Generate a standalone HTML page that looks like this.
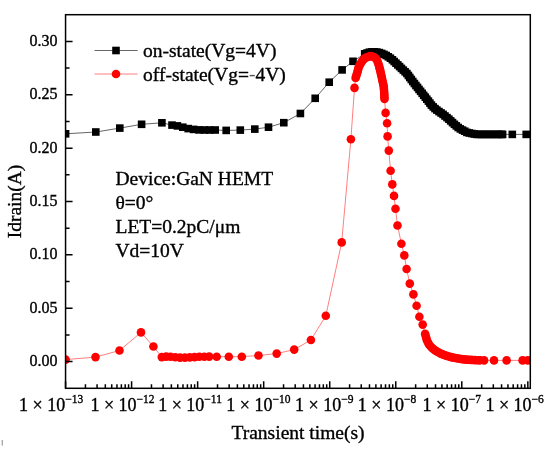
<!DOCTYPE html><html><head><meta charset="utf-8"><style>html,body{margin:0;padding:0;background:#fff;width:550px;height:449px;overflow:hidden}svg{display:block}</style></head><body>
<svg width="550" height="449" viewBox="0 0 550 449">
<rect width="550" height="449" fill="#fff"/>
<defs><clipPath id="c"><rect x="65.56" y="14.7" width="464.73999999999995" height="373.6"/></clipPath></defs>
<g clip-path="url(#c)">
<polyline fill="none" stroke="#555" stroke-width="0.9" points="65.6,133.8 95.8,132.0 119.8,128.1 141.6,124.3 161.9,122.8 172.0,125.1 177.4,125.9 182.8,127.2 188.2,128.6 193.6,129.4 199.0,129.9 204.4,130.0 209.8,130.0 215.2,130.0 226.2,130.4 240.3,130.1 254.8,129.1 268.5,127.2 283.8,122.7 300.4,113.5 315.2,98.3 329.2,82.2 342.1,69.9 353.0,61.3 364.7,53.8 367.1,53.0 369.4,52.2 371.9,51.9 374.4,51.8 376.9,52.1 379.3,52.6 381.7,53.4 384.0,54.4 386.2,55.5 388.3,56.8 390.4,58.2 392.4,59.8 394.2,61.5 396.0,63.2 397.8,64.9 399.6,66.6 401.4,68.4 403.3,70.1 405.1,71.8 406.9,73.5 408.4,75.5 409.8,77.5 411.3,79.5 412.8,81.5 414.4,83.5 415.9,85.5 417.5,87.4 419.0,89.4 420.6,91.3 422.2,93.3 423.7,95.3 425.3,97.2 426.8,99.2 428.4,101.1 429.9,103.1 431.4,105.1 433.2,106.9 435.0,108.6 436.9,110.1 439.0,111.6 441.1,113.0 443.1,114.4 445.0,116.0 447.0,117.6 448.9,119.2 450.7,120.9 452.5,122.6 454.4,124.3 456.3,125.9 458.2,127.5 460.3,128.9 462.5,130.1 464.7,131.2 466.9,132.4 469.3,133.0 471.8,133.5 474.2,134.0 476.7,134.4 479.2,134.4 481.7,134.4 484.2,134.4 486.7,134.4 489.2,134.4 491.7,134.4 494.2,134.4 496.7,134.4 499.2,134.4 501.7,134.4 502.6,134.4 512.3,134.4 526.2,134.4"/>
<polyline fill="none" stroke="#ff7070" stroke-width="0.9" points="65.6,359.6 95.5,357.1 119.5,350.5 141.0,332.4 153.4,346.5 161.8,357.1 166.2,356.6 170.5,356.8 175.3,357.3 180.1,357.6 184.9,357.6 189.7,357.4 194.5,357.1 199.3,356.8 204.3,356.7 209.2,356.6 216.7,356.7 228.8,356.7 241.8,356.7 258.5,355.5 276.7,353.6 294.2,349.6 310.9,340.0 325.8,315.8 341.7,242.4 350.9,139.2 354.5,87.9 355.6,77.9 356.2,76.0 356.8,74.1 357.4,72.2 357.9,70.2 358.4,68.3 359.0,66.4 360.0,64.7 361.0,62.9 362.1,61.3 363.4,59.8 364.7,58.3 366.5,57.4 368.4,56.7 370.2,56.1 372.2,56.5 374.1,57.0 375.5,58.3 376.9,59.8 377.6,61.7 378.3,63.6 378.9,65.5 379.4,67.4 379.9,69.3 380.4,71.3 380.8,73.2 381.3,75.2 381.7,77.1 382.1,79.1 382.5,81.0 383.0,83.0 383.4,84.9 383.8,86.9 383.9,88.9 384.1,90.9 384.2,92.9 384.3,94.9 384.4,96.9 384.5,98.9 385.6,112.9 387.1,123.2 387.6,136.4 388.8,150.6 390.6,170.7 392.3,184.4 394.0,195.9 395.5,208.8 397.5,225.5 401.4,243.7 404.3,255.4 406.6,269.0 409.8,283.6 413.4,294.4 416.6,305.7 419.4,316.7 422.7,324.6 425.1,333.8 425.7,335.9 426.3,338.0 426.9,340.2 427.8,342.1 428.8,344.1 430.1,345.8 431.6,347.5 433.2,348.9 435.0,350.3 436.8,351.5 438.8,352.5 440.7,353.6 442.7,354.4 444.8,355.2 446.8,355.9 449.0,356.5 451.1,357.1 453.2,357.6 455.4,358.0 457.5,358.4 459.7,358.8 461.9,359.1 464.1,359.4 466.3,359.6 468.5,359.7 470.7,359.9 472.8,360.0 475.0,360.1 477.2,360.2 479.4,360.3 480.0,360.3 484.1,360.4 494.0,360.4 506.6,360.4 522.6,360.4 527.7,360.4"/>
<g fill="#000"><rect x="61.8" y="130.0" width="7.6" height="7.6"/><rect x="92.0" y="128.2" width="7.6" height="7.6"/><rect x="116.0" y="124.3" width="7.6" height="7.6"/><rect x="137.8" y="120.5" width="7.6" height="7.6"/><rect x="158.1" y="119.0" width="7.6" height="7.6"/><rect x="168.2" y="121.3" width="7.6" height="7.6"/><rect x="173.6" y="122.1" width="7.6" height="7.6"/><rect x="179.0" y="123.4" width="7.6" height="7.6"/><rect x="184.4" y="124.8" width="7.6" height="7.6"/><rect x="189.8" y="125.6" width="7.6" height="7.6"/><rect x="195.2" y="126.1" width="7.6" height="7.6"/><rect x="200.6" y="126.2" width="7.6" height="7.6"/><rect x="206.0" y="126.2" width="7.6" height="7.6"/><rect x="211.4" y="126.2" width="7.6" height="7.6"/><rect x="222.4" y="126.6" width="7.6" height="7.6"/><rect x="236.5" y="126.3" width="7.6" height="7.6"/><rect x="251.0" y="125.3" width="7.6" height="7.6"/><rect x="264.7" y="123.4" width="7.6" height="7.6"/><rect x="280.0" y="118.9" width="7.6" height="7.6"/><rect x="296.6" y="109.7" width="7.6" height="7.6"/><rect x="311.4" y="94.5" width="7.6" height="7.6"/><rect x="325.4" y="78.4" width="7.6" height="7.6"/><rect x="338.3" y="66.1" width="7.6" height="7.6"/><rect x="349.2" y="57.5" width="7.6" height="7.6"/><rect x="360.9" y="50.0" width="7.6" height="7.6"/><rect x="363.3" y="49.2" width="7.6" height="7.6"/><rect x="365.6" y="48.4" width="7.6" height="7.6"/><rect x="368.1" y="48.1" width="7.6" height="7.6"/><rect x="370.6" y="48.0" width="7.6" height="7.6"/><rect x="373.1" y="48.3" width="7.6" height="7.6"/><rect x="375.5" y="48.8" width="7.6" height="7.6"/><rect x="377.9" y="49.6" width="7.6" height="7.6"/><rect x="380.2" y="50.6" width="7.6" height="7.6"/><rect x="382.4" y="51.7" width="7.6" height="7.6"/><rect x="384.5" y="53.0" width="7.6" height="7.6"/><rect x="386.6" y="54.4" width="7.6" height="7.6"/><rect x="388.6" y="56.0" width="7.6" height="7.6"/><rect x="390.4" y="57.7" width="7.6" height="7.6"/><rect x="392.2" y="59.4" width="7.6" height="7.6"/><rect x="394.0" y="61.1" width="7.6" height="7.6"/><rect x="395.8" y="62.8" width="7.6" height="7.6"/><rect x="397.6" y="64.6" width="7.6" height="7.6"/><rect x="399.5" y="66.3" width="7.6" height="7.6"/><rect x="401.3" y="68.0" width="7.6" height="7.6"/><rect x="403.1" y="69.7" width="7.6" height="7.6"/><rect x="404.6" y="71.7" width="7.6" height="7.6"/><rect x="406.0" y="73.7" width="7.6" height="7.6"/><rect x="407.5" y="75.7" width="7.6" height="7.6"/><rect x="409.0" y="77.7" width="7.6" height="7.6"/><rect x="410.6" y="79.7" width="7.6" height="7.6"/><rect x="412.1" y="81.7" width="7.6" height="7.6"/><rect x="413.7" y="83.6" width="7.6" height="7.6"/><rect x="415.2" y="85.6" width="7.6" height="7.6"/><rect x="416.8" y="87.5" width="7.6" height="7.6"/><rect x="418.4" y="89.5" width="7.6" height="7.6"/><rect x="419.9" y="91.5" width="7.6" height="7.6"/><rect x="421.5" y="93.4" width="7.6" height="7.6"/><rect x="423.0" y="95.4" width="7.6" height="7.6"/><rect x="424.6" y="97.3" width="7.6" height="7.6"/><rect x="426.1" y="99.3" width="7.6" height="7.6"/><rect x="427.6" y="101.3" width="7.6" height="7.6"/><rect x="429.4" y="103.1" width="7.6" height="7.6"/><rect x="431.2" y="104.8" width="7.6" height="7.6"/><rect x="433.1" y="106.3" width="7.6" height="7.6"/><rect x="435.2" y="107.8" width="7.6" height="7.6"/><rect x="437.3" y="109.2" width="7.6" height="7.6"/><rect x="439.3" y="110.6" width="7.6" height="7.6"/><rect x="441.2" y="112.2" width="7.6" height="7.6"/><rect x="443.2" y="113.8" width="7.6" height="7.6"/><rect x="445.1" y="115.4" width="7.6" height="7.6"/><rect x="446.9" y="117.1" width="7.6" height="7.6"/><rect x="448.7" y="118.8" width="7.6" height="7.6"/><rect x="450.6" y="120.5" width="7.6" height="7.6"/><rect x="452.5" y="122.1" width="7.6" height="7.6"/><rect x="454.4" y="123.7" width="7.6" height="7.6"/><rect x="456.5" y="125.1" width="7.6" height="7.6"/><rect x="458.7" y="126.3" width="7.6" height="7.6"/><rect x="460.9" y="127.4" width="7.6" height="7.6"/><rect x="463.1" y="128.6" width="7.6" height="7.6"/><rect x="465.5" y="129.2" width="7.6" height="7.6"/><rect x="468.0" y="129.7" width="7.6" height="7.6"/><rect x="470.4" y="130.2" width="7.6" height="7.6"/><rect x="472.9" y="130.6" width="7.6" height="7.6"/><rect x="475.4" y="130.6" width="7.6" height="7.6"/><rect x="477.9" y="130.6" width="7.6" height="7.6"/><rect x="480.4" y="130.6" width="7.6" height="7.6"/><rect x="482.9" y="130.6" width="7.6" height="7.6"/><rect x="485.4" y="130.6" width="7.6" height="7.6"/><rect x="487.9" y="130.6" width="7.6" height="7.6"/><rect x="490.4" y="130.6" width="7.6" height="7.6"/><rect x="492.9" y="130.6" width="7.6" height="7.6"/><rect x="495.4" y="130.6" width="7.6" height="7.6"/><rect x="497.9" y="130.6" width="7.6" height="7.6"/><rect x="498.8" y="130.6" width="7.6" height="7.6"/><rect x="508.5" y="130.6" width="7.6" height="7.6"/><rect x="522.4" y="130.6" width="7.6" height="7.6"/></g>
<g fill="#f00"><circle cx="65.6" cy="359.6" r="4.3"/><circle cx="95.5" cy="357.1" r="4.3"/><circle cx="119.5" cy="350.5" r="4.3"/><circle cx="141.0" cy="332.4" r="4.3"/><circle cx="153.4" cy="346.5" r="4.3"/><circle cx="161.8" cy="357.1" r="4.3"/><circle cx="166.2" cy="356.6" r="4.3"/><circle cx="170.5" cy="356.8" r="4.3"/><circle cx="175.3" cy="357.3" r="4.3"/><circle cx="180.1" cy="357.6" r="4.3"/><circle cx="184.9" cy="357.6" r="4.3"/><circle cx="189.7" cy="357.4" r="4.3"/><circle cx="194.5" cy="357.1" r="4.3"/><circle cx="199.3" cy="356.8" r="4.3"/><circle cx="204.3" cy="356.7" r="4.3"/><circle cx="209.2" cy="356.6" r="4.3"/><circle cx="216.7" cy="356.7" r="4.3"/><circle cx="228.8" cy="356.7" r="4.3"/><circle cx="241.8" cy="356.7" r="4.3"/><circle cx="258.5" cy="355.5" r="4.3"/><circle cx="276.7" cy="353.6" r="4.3"/><circle cx="294.2" cy="349.6" r="4.3"/><circle cx="310.9" cy="340.0" r="4.3"/><circle cx="325.8" cy="315.8" r="4.3"/><circle cx="341.7" cy="242.4" r="4.3"/><circle cx="350.9" cy="139.2" r="4.3"/><circle cx="354.5" cy="87.9" r="4.3"/><circle cx="355.6" cy="77.9" r="4.3"/><circle cx="356.2" cy="76.0" r="4.3"/><circle cx="356.8" cy="74.1" r="4.3"/><circle cx="357.4" cy="72.2" r="4.3"/><circle cx="357.9" cy="70.2" r="4.3"/><circle cx="358.4" cy="68.3" r="4.3"/><circle cx="359.0" cy="66.4" r="4.3"/><circle cx="360.0" cy="64.7" r="4.3"/><circle cx="361.0" cy="62.9" r="4.3"/><circle cx="362.1" cy="61.3" r="4.3"/><circle cx="363.4" cy="59.8" r="4.3"/><circle cx="364.7" cy="58.3" r="4.3"/><circle cx="366.5" cy="57.4" r="4.3"/><circle cx="368.4" cy="56.7" r="4.3"/><circle cx="370.2" cy="56.1" r="4.3"/><circle cx="372.2" cy="56.5" r="4.3"/><circle cx="374.1" cy="57.0" r="4.3"/><circle cx="375.5" cy="58.3" r="4.3"/><circle cx="376.9" cy="59.8" r="4.3"/><circle cx="377.6" cy="61.7" r="4.3"/><circle cx="378.3" cy="63.6" r="4.3"/><circle cx="378.9" cy="65.5" r="4.3"/><circle cx="379.4" cy="67.4" r="4.3"/><circle cx="379.9" cy="69.3" r="4.3"/><circle cx="380.4" cy="71.3" r="4.3"/><circle cx="380.8" cy="73.2" r="4.3"/><circle cx="381.3" cy="75.2" r="4.3"/><circle cx="381.7" cy="77.1" r="4.3"/><circle cx="382.1" cy="79.1" r="4.3"/><circle cx="382.5" cy="81.0" r="4.3"/><circle cx="383.0" cy="83.0" r="4.3"/><circle cx="383.4" cy="84.9" r="4.3"/><circle cx="383.8" cy="86.9" r="4.3"/><circle cx="383.9" cy="88.9" r="4.3"/><circle cx="384.1" cy="90.9" r="4.3"/><circle cx="384.2" cy="92.9" r="4.3"/><circle cx="384.3" cy="94.9" r="4.3"/><circle cx="384.4" cy="96.9" r="4.3"/><circle cx="384.5" cy="98.9" r="4.3"/><circle cx="385.6" cy="112.9" r="4.3"/><circle cx="387.1" cy="123.2" r="4.3"/><circle cx="387.6" cy="136.4" r="4.3"/><circle cx="388.8" cy="150.6" r="4.3"/><circle cx="390.6" cy="170.7" r="4.3"/><circle cx="392.3" cy="184.4" r="4.3"/><circle cx="394.0" cy="195.9" r="4.3"/><circle cx="395.5" cy="208.8" r="4.3"/><circle cx="397.5" cy="225.5" r="4.3"/><circle cx="401.4" cy="243.7" r="4.3"/><circle cx="404.3" cy="255.4" r="4.3"/><circle cx="406.6" cy="269.0" r="4.3"/><circle cx="409.8" cy="283.6" r="4.3"/><circle cx="413.4" cy="294.4" r="4.3"/><circle cx="416.6" cy="305.7" r="4.3"/><circle cx="419.4" cy="316.7" r="4.3"/><circle cx="422.7" cy="324.6" r="4.3"/><circle cx="425.1" cy="333.8" r="4.3"/><circle cx="425.7" cy="335.9" r="4.3"/><circle cx="426.3" cy="338.0" r="4.3"/><circle cx="426.9" cy="340.2" r="4.3"/><circle cx="427.8" cy="342.1" r="4.3"/><circle cx="428.8" cy="344.1" r="4.3"/><circle cx="430.1" cy="345.8" r="4.3"/><circle cx="431.6" cy="347.5" r="4.3"/><circle cx="433.2" cy="348.9" r="4.3"/><circle cx="435.0" cy="350.3" r="4.3"/><circle cx="436.8" cy="351.5" r="4.3"/><circle cx="438.8" cy="352.5" r="4.3"/><circle cx="440.7" cy="353.6" r="4.3"/><circle cx="442.7" cy="354.4" r="4.3"/><circle cx="444.8" cy="355.2" r="4.3"/><circle cx="446.8" cy="355.9" r="4.3"/><circle cx="449.0" cy="356.5" r="4.3"/><circle cx="451.1" cy="357.1" r="4.3"/><circle cx="453.2" cy="357.6" r="4.3"/><circle cx="455.4" cy="358.0" r="4.3"/><circle cx="457.5" cy="358.4" r="4.3"/><circle cx="459.7" cy="358.8" r="4.3"/><circle cx="461.9" cy="359.1" r="4.3"/><circle cx="464.1" cy="359.4" r="4.3"/><circle cx="466.3" cy="359.6" r="4.3"/><circle cx="468.5" cy="359.7" r="4.3"/><circle cx="470.7" cy="359.9" r="4.3"/><circle cx="472.8" cy="360.0" r="4.3"/><circle cx="475.0" cy="360.1" r="4.3"/><circle cx="477.2" cy="360.2" r="4.3"/><circle cx="479.4" cy="360.3" r="4.3"/><circle cx="480.0" cy="360.3" r="4.3"/><circle cx="484.1" cy="360.4" r="4.3"/><circle cx="494.0" cy="360.4" r="4.3"/><circle cx="506.6" cy="360.4" r="4.3"/><circle cx="522.6" cy="360.4" r="4.3"/><circle cx="527.7" cy="360.4" r="4.3"/></g>
</g>
<rect x="65.56" y="14.7" width="464.73999999999995" height="373.6" fill="none" stroke="#000" stroke-width="1.5"/>
<path d="M65.56,361.60h7M65.56,334.92h4M65.56,308.24h7M65.56,281.55h4M65.56,254.87h7M65.56,228.19h4M65.56,201.50h7M65.56,174.82h4M65.56,148.14h7M65.56,121.46h4M65.56,94.78h7M65.56,68.09h4M65.56,41.41h7M65.56,388.3v-7M85.44,388.3v-4M97.07,388.3v-4M105.32,388.3v-4M111.72,388.3v-4M116.95,388.3v-4M121.37,388.3v-4M125.20,388.3v-4M128.58,388.3v-4M131.60,388.3v-7M151.48,388.3v-4M163.11,388.3v-4M171.36,388.3v-4M177.76,388.3v-4M182.99,388.3v-4M187.41,388.3v-4M191.24,388.3v-4M194.62,388.3v-4M197.64,388.3v-7M217.52,388.3v-4M229.15,388.3v-4M237.40,388.3v-4M243.80,388.3v-4M249.03,388.3v-4M253.45,388.3v-4M257.28,388.3v-4M260.66,388.3v-4M263.68,388.3v-7M283.56,388.3v-4M295.19,388.3v-4M303.44,388.3v-4M309.84,388.3v-4M315.07,388.3v-4M319.49,388.3v-4M323.32,388.3v-4M326.70,388.3v-4M329.72,388.3v-7M349.60,388.3v-4M361.23,388.3v-4M369.48,388.3v-4M375.88,388.3v-4M381.11,388.3v-4M385.53,388.3v-4M389.36,388.3v-4M392.74,388.3v-4M395.76,388.3v-7M415.64,388.3v-4M427.27,388.3v-4M435.52,388.3v-4M441.92,388.3v-4M447.15,388.3v-4M451.57,388.3v-4M455.40,388.3v-4M458.78,388.3v-4M461.80,388.3v-7M481.68,388.3v-4M493.31,388.3v-4M501.56,388.3v-4M507.96,388.3v-4M513.19,388.3v-4M517.61,388.3v-4M521.44,388.3v-4M524.82,388.3v-4M527.84,388.3v-7" stroke="#000" stroke-width="1.5" fill="none"/>
<text x="57.6" y="366.0" font-family="Liberation Serif, serif" stroke="#000" stroke-width="0.35" font-size="16" text-anchor="end">0.00</text>
<text x="57.6" y="312.6" font-family="Liberation Serif, serif" stroke="#000" stroke-width="0.35" font-size="16" text-anchor="end">0.05</text>
<text x="57.6" y="259.3" font-family="Liberation Serif, serif" stroke="#000" stroke-width="0.35" font-size="16" text-anchor="end">0.10</text>
<text x="57.6" y="205.9" font-family="Liberation Serif, serif" stroke="#000" stroke-width="0.35" font-size="16" text-anchor="end">0.15</text>
<text x="57.6" y="152.5" font-family="Liberation Serif, serif" stroke="#000" stroke-width="0.35" font-size="16" text-anchor="end">0.20</text>
<text x="57.6" y="99.2" font-family="Liberation Serif, serif" stroke="#000" stroke-width="0.35" font-size="16" text-anchor="end">0.25</text>
<text x="57.6" y="45.8" font-family="Liberation Serif, serif" stroke="#000" stroke-width="0.35" font-size="16" text-anchor="end">0.30</text>
<text x="19" y="410.5" font-family="Liberation Serif, serif" stroke="#000" stroke-width="0.35" font-size="18">1 × 10<tspan font-size="11.5" dy="-7.8">−13</tspan></text>
<text x="90.4" y="410.5" font-family="Liberation Serif, serif" stroke="#000" stroke-width="0.35" font-size="18">1 × 10<tspan font-size="11.5" dy="-7.8">−12</tspan></text>
<text x="158.2" y="410.5" font-family="Liberation Serif, serif" stroke="#000" stroke-width="0.35" font-size="18">1 × 10<tspan font-size="11.5" dy="-7.8">−11</tspan></text>
<text x="226.3" y="410.5" font-family="Liberation Serif, serif" stroke="#000" stroke-width="0.35" font-size="18">1 × 10<tspan font-size="11.5" dy="-7.8">−10</tspan></text>
<text x="295" y="410.5" font-family="Liberation Serif, serif" stroke="#000" stroke-width="0.35" font-size="18">1 × 10<tspan font-size="11.5" dy="-7.8">−9</tspan></text>
<text x="357.8" y="410.5" font-family="Liberation Serif, serif" stroke="#000" stroke-width="0.35" font-size="18">1 × 10<tspan font-size="11.5" dy="-7.8">−8</tspan></text>
<text x="422.6" y="410.5" font-family="Liberation Serif, serif" stroke="#000" stroke-width="0.35" font-size="18">1 × 10<tspan font-size="11.5" dy="-7.8">−7</tspan></text>
<text x="485.4" y="410.5" font-family="Liberation Serif, serif" stroke="#000" stroke-width="0.35" font-size="18">1 × 10<tspan font-size="11.5" dy="-7.8">−6</tspan></text>
<text x="231.5" y="438.8" font-family="Liberation Serif, serif" stroke="#000" stroke-width="0.35" font-size="19.5">Transient time(s)</text>
<text transform="translate(21.3,238.3) rotate(-90)" font-family="Liberation Serif, serif" stroke="#000" stroke-width="0.35" font-size="19.5">Idrain(A)</text>
<line x1="94.5" y1="50.5" x2="137.6" y2="50.5" stroke="#555" stroke-width="0.9"/>
<rect x="112.2" y="46.7" width="7.6" height="7.6" fill="#000"/>
<line x1="94.5" y1="74" x2="137.6" y2="74" stroke="#ff7070" stroke-width="0.9"/>
<circle cx="116" cy="74" r="4.3" fill="#f00"/>
<text x="143" y="57" font-family="Liberation Serif, serif" stroke="#000" stroke-width="0.35" font-size="19.5">on-state(Vg=4V)</text>
<text x="143" y="81" font-family="Liberation Serif, serif" stroke="#000" stroke-width="0.35" font-size="19.5">off-state(Vg=<tspan stroke="none" fill="#555" dy="-1.4">-</tspan><tspan dy="1.4">4V)</tspan></text>
<text x="115.5" y="185.3" font-family="Liberation Serif, serif" stroke="#000" stroke-width="0.35" font-size="19.5">Device:GaN HEMT</text>
<text x="115.5" y="209.3" font-family="Liberation Serif, serif" stroke="#000" stroke-width="0.35" font-size="19.5">θ=0°</text>
<text x="115.5" y="233.3" font-family="Liberation Serif, serif" stroke="#000" stroke-width="0.35" font-size="19.5">LET=0.2pC/μm</text>
<text x="115.5" y="257.3" font-family="Liberation Serif, serif" stroke="#000" stroke-width="0.35" font-size="19.5">Vd=10V</text>
<rect x="1.6" y="440" width="1.4" height="5.6" fill="#aaa"/>
</svg></body></html>
